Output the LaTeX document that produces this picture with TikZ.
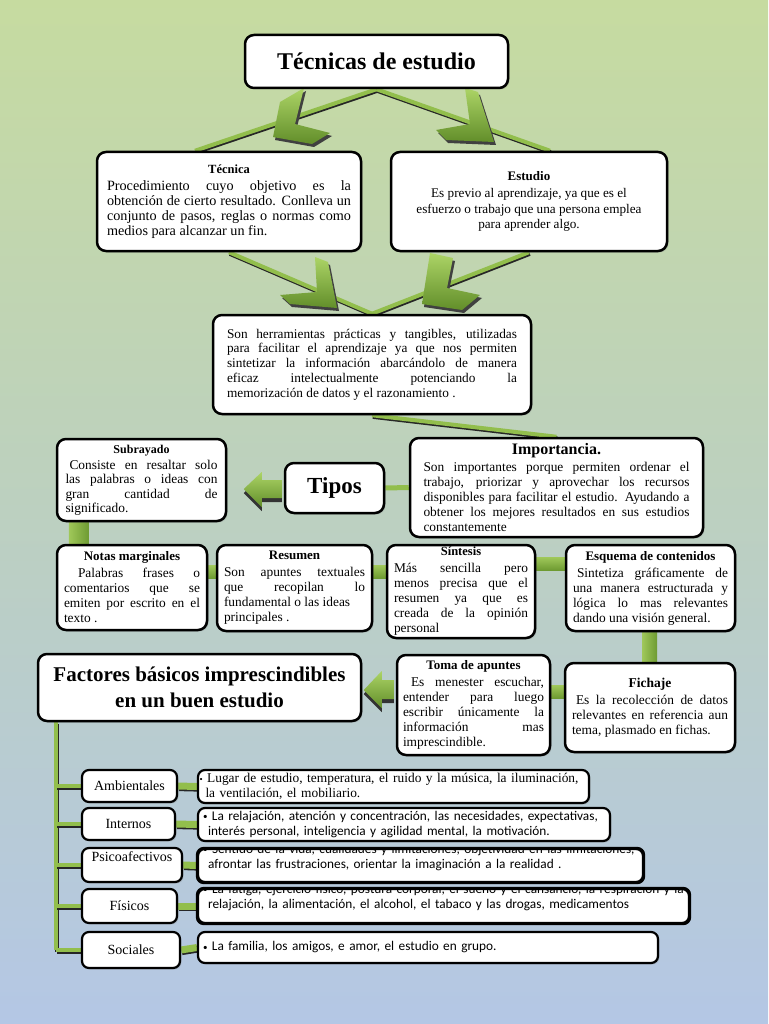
\documentclass[tikz,border=0pt]{standalone}
\usepackage{fontspec}
\setmainfont{Liberation Serif}
\newfontfamily\calib{Carlito}
\usetikzlibrary{shadows,calc}
\pgfdeclarelayer{bglayer}
\pgfdeclarelayer{linklayer}
\pgfsetlayers{bglayer,linklayer,main}
\definecolor{bgtop}{RGB}{198,219,160}
\definecolor{bgmid}{RGB}{188,208,192}
\definecolor{bgbot}{RGB}{180,199,229}
\definecolor{congreen}{RGB}{146,190,76}
\definecolor{chevlight}{RGB}{172,212,102}
\definecolor{chevdark}{RGB}{98,142,42}
\definecolor{barlight}{RGB}{160,200,90}
\definecolor{bardark}{RGB}{110,155,50}
\newcommand\hdr[2]{{\centering\fontsize{#1}{#1}\selectfont\bfseries #2\par}\vspace{2pt}}
% justified block: width, font size, line skip, content
\newcommand\jb[4]{\begin{minipage}{#1pt}\fontsize{#2}{#3}\selectfont\parindent=0pt\hyphenpenalty=10000\exhyphenpenalty=10000\relax #4\end{minipage}}
\newcommand\greenlink[2][4pt]{\draw[linkshadow, line width=#1] #2; \draw[linkgreen, line width=#1] #2;}
\newcommand\chevronshape[1]{\fill[black!75, shift={(2,3)}] #1 -- cycle; \shade[chev] #1 -- cycle;}
\newcommand\smallbullet{\raisebox{0.5pt}{\fontsize{9}{9}\selectfont •}}
\begin{document}
\begin{tikzpicture}[x=1pt,y=-1pt,
 box/.style={draw=black, line width=2.5pt, rounded corners=9pt, fill=white, inner sep=0pt,
   drop shadow={opacity=0.3, shadow xshift=1.5pt, shadow yshift=-1.5pt}},
 cbox/.style={box, line width=2.2pt, rounded corners=7pt, font=\fontsize{14}{15}\selectfont},
 dbox/.style={box, line width=2.2pt, rounded corners=7pt, align=left, font=\calib\fontsize{13.3}{15}\selectfont},
 linkgreen/.style={draw=congreen},
 linkshadow/.style={draw=black!85, transform canvas={shift={(0.8pt,-1.6pt)}}},
 chev/.style={top color=chevlight, bottom color=chevdark},
 vbar/.style={left color=barlight, right color=bardark},
 hbar/.style={top color=barlight, bottom color=bardark},
]
\useasboundingbox (0,0) rectangle (768,1024);
\begin{pgfonlayer}{bglayer}
\shade[top color=bgtop, bottom color=bgbot, middle color=bgmid] (0,0) rectangle (768,1024);
\end{pgfonlayer}

% ---------- nodes ----------
\node[box, minimum width=263, minimum height=53, font=\fontsize{24}{28}\selectfont\bfseries] (title) at (376.5,61.5) {Técnicas de estudio};

\node[box, minimum width=264, minimum height=99] (tecnica) at (229,201.5)
 {\jb{244}{14.2}{15}{\hdr{12.5}{Técnica}Procedimiento cuyo objetivo es la\linebreak obtención de cierto resultado. Conlleva un\linebreak conjunto de pasos, reglas o normas como\linebreak medios para alcanzar un fin.}};

\node[box, minimum width=276, minimum height=99] (estudio) at (529,201.5)
 {\jb{264}{13.2}{15.5}{\hdr{13}{Estudio}{\centering Es previo al aprendizaje, ya que es el\\esfuerzo o trabajo que una persona emplea\\para aprender algo.\par}}};

\node[box, minimum width=318, minimum height=99] (centro) at (372,364.5)
 {\jb{290}{13.3}{14.7}{Son herramientas prácticas y tangibles, utilizadas\linebreak para facilitar el aprendizaje ya que nos permiten\linebreak sintetizar la información abarcándolo de manera\linebreak eficaz intelectualmente potenciando la\linebreak memorización de datos y el razonamiento .}};

\node[box, minimum width=293, minimum height=99] (importancia) at (556.5,487.5)
 {\jb{266}{13.4}{15}{\hdr{16}{Importancia.}Son importantes porque permiten ordenar el\linebreak trabajo, priorizar y aprovechar los recursos\linebreak disponibles para facilitar el estudio. Ayudando a\linebreak obtener los mejores resultados en sus estudios\linebreak constantemente}};

\node[box, minimum width=99, minimum height=50, font=\fontsize{23}{28}\selectfont\bfseries] (tipos) at (334.5,488) {Tipos};

\node[box, minimum width=169, minimum height=82] (subrayado) at (141.5,480)
 {\jb{152}{13.4}{14.3}{\hdr{12}{Subrayado}\hspace*{4pt}Consiste en resaltar solo\linebreak las palabras o ideas con\linebreak gran cantidad de\linebreak significado.}};

\node[box, minimum width=150, minimum height=85] (notas) at (132,587.5)
 {\jb{136}{13.4}{15}{\hdr{13}{Notas marginales}\hspace*{14pt}Palabras frases o\linebreak comentarios que se\linebreak emiten por escrito en el\linebreak texto .}};

\node[box, minimum width=155, minimum height=86] (resumen) at (294.5,588)
 {\jb{141}{13.4}{15}{\hdr{13}{Resumen}Son apuntes textuales\linebreak que recopilan lo\linebreak fundamental o las ideas\newline principales .}};

\node[box, minimum width=148, minimum height=93] (sintesis) at (461,591.5)
 {\jb{134}{13.4}{15}{\hdr{12.5}{Síntesis}Más sencilla pero\linebreak menos precisa que el\linebreak resumen ya que es\linebreak creada de la opinión\linebreak personal}};

\node[box, minimum width=169, minimum height=86] (esquema) at (650.5,588)
 {\jb{155}{13.4}{15}{\hdr{13}{Esquema de contenidos}\hspace*{4pt}Sintetiza gráficamente de\linebreak una manera estructurada y\linebreak lógica lo mas relevantes\linebreak dando una visión general.}};

\node[box, minimum width=153, minimum height=100] (toma) at (473.5,705)
 {\jb{141}{13.4}{15}{\hdr{13}{Toma de apuntes}\hspace*{8pt}Es menester escuchar,\linebreak entender para luego\linebreak escribir únicamente la\linebreak información mas\linebreak imprescindible.}};

\node[box, minimum width=170, minimum height=89] (fichaje) at (650,707.5)
 {\jb{156}{13.4}{15}{\hdr{13.5}{Fichaje}\hspace*{4pt}Es la recolección de datos\linebreak relevantes en referencia aun\linebreak tema, plasmado en fichas.}};

\node[box, minimum width=323, minimum height=67, align=center, font=\fontsize{21}{26}\selectfont\bfseries] (factores) at (199.5,687.5)
 {Factores básicos imprescindibles\\en un buen estudio};

% categories
\node[cbox, minimum width=95, minimum height=32] (amb) at (129.5,786) {Ambientales};
\node[cbox, minimum width=93, minimum height=32] (int) at (128.5,824) {Internos};
\node[cbox, minimum width=100, minimum height=34] (psi) at (132,865) {\raisebox{8pt}[\height][\depth]{Psicoafectivos}};
\node[cbox, minimum width=95, minimum height=34] (fis) at (129.5,906) {Físicos};
\node[cbox, minimum width=98, minimum height=36] (soc) at (131,950) {Sociales};

% descriptions
\node[dbox, minimum width=391, minimum height=33, text width=388, font=\fontsize{13.4}{15}\selectfont] (ambd) at (393.5,786.5)
 {\smallbullet\ Lugar de estudio, temperatura, el ruido y la música, la iluminación,\\\hspace*{6pt}la ventilación, el mobiliario.};
\node[dbox, minimum width=412, minimum height=33, text width=402] (intd) at (404,824.5)
 {\smallbullet\ La relajación, atención y concentración, las necesidades, expectativas,\\\hspace*{5pt}interés personal, inteligencia y agilidad mental, la motivación.};
\node[dbox, minimum width=445, minimum height=33] (psid) at (420.5,865.5) {};
\begin{scope}
\clip[rounded corners=7pt] (psid.south west) rectangle (psid.north east);
\node[anchor=north west, inner sep=0pt, text width=436, align=left, font=\calib\fontsize{13.3}{15.5}\selectfont] (psit) at ($(psid.north west)+(6,-4)$)
 {\smallbullet\ Sentido de la vida, cualidades y limitaciones, objetividad en las limitaciones,\\\hspace*{5pt}afrontar las frustraciones, orientar la imaginación a la realidad .};
\end{scope}
\draw[line width=2.2pt, rounded corners=7pt] (psid.south west) rectangle (psid.north east);
\node[dbox, minimum width=491, minimum height=34] (fisd) at (443.5,906) {};
\begin{scope}
\clip[rounded corners=7pt] (fisd.south west) rectangle (fisd.north east);
\node[anchor=north west, inner sep=0pt, text width=484, align=left, font=\calib\fontsize{13.3}{15.5}\selectfont] (fist) at ($(fisd.north west)+(6,-4)$)
 {\smallbullet\ La fatiga, ejercicio físico, postura corporal, el sueño y el cansancio, la respiración y la\\\hspace*{5pt}relajación, la alimentación, el alcohol, el tabaco y las drogas, medicamentos};
\end{scope}
\draw[line width=2.2pt, rounded corners=7pt] (fisd.south west) rectangle (fisd.north east);
\node[dbox, minimum width=460, minimum height=31, text width=450] (socd) at (428,947.5)
 {\smallbullet\ La familia, los amigos, e amor, el estudio en grupo.};

% ---------- connectors ----------
\begin{pgfonlayer}{linklayer}
\greenlink{(title.south) -- ([xshift=-34pt]tecnica.north)}
\greenlink{(title.south) -- ([xshift=21pt]estudio.north)}
\greenlink{(tecnica.south) -- (centro.north)}
\greenlink{(estudio.south) -- (centro.north)}
\greenlink{(centro.south) -- (importancia.north)}
\draw[linkgreen, line width=5pt] (tipos.east) -- (importancia.west);

% chevrons
\chevronshape{(304,88) -- (280,102) -- (273,137) -- (312,144) -- (330,133) -- (295,124)}
\chevronshape{(465,88) -- (478,92) -- (494,142) -- (446,140) -- (436,130) -- (470,124)}
\chevronshape{(315,257) -- (328,262) -- (337,308) -- (290,304) -- (280,295) -- (317,292)}
\chevronshape{(430,253) -- (453,258) -- (447,288) -- (480,295) -- (462,310) -- (422,304)}

% block arrows
\begin{scope}[shift={(tipos.west)}]
\fill[black!80] (-40,5) -- (-22,-12) -- (-22,-4) -- (-2,-4) -- (-2,14) -- (-22,14) -- (-22,23) -- cycle;
\shade[chev] (-40,1) -- (-22,-16) -- (-22,-8) -- (-2,-8) -- (-2,10) -- (-22,10) -- (-22,19) -- cycle;
\end{scope}
\begin{scope}[shift={(toma.west)}]
\fill[black!80] (-32,-11) -- (-14,-30) -- (-14,-21) -- (-2,-21) -- (-2,-2) -- (-14,-2) -- (-14,7) -- cycle;
\shade[chev] (-32,-15) -- (-14,-34) -- (-14,-25) -- (-2,-25) -- (-2,-6) -- (-14,-6) -- (-14,3) -- cycle;
\end{scope}

% bars between boxes
\fill[vbar] ($(subrayado.south west)+(13,-3)$) rectangle ($(notas.north west)+(33,3)$);
\fill[hbar] ($(notas.east)+(-2,-22)$) rectangle ($(resumen.west)+(2,-10)$);
\fill[hbar] ($(resumen.east)+(-2,-23)$) rectangle ($(sintesis.west)+(2,-13.5)$);
\fill[hbar] ($(sintesis.east)+(-2,-34.5)$) rectangle ($(esquema.west)+(2,-18)$);
\fill[vbar] ($(esquema.south)+(-8.5,-3)$) rectangle ($(fichaje.north)+(7,3)$);
\fill[hbar] ($(toma.east)+(-2,-20)$) rectangle ($(fichaje.west)+(2,-9.5)$);

% factores tree
\coordinate (sp) at ($(factores.south west)+(19,0)$);
\greenlink{(sp) -- (sp |- soc.west)}
\greenlink{(sp |- amb.west) -- (amb.west)}
\greenlink{(sp |- int.west) -- (int.west)}
\greenlink{(sp |- psi.west) -- (psi.west)}
\greenlink{(sp |- fis.west) -- (fis.west)}
\greenlink{(sp |- soc.west) -- (soc.west)}
\greenlink[7pt]{(amb.east) -- (ambd.west)}
\greenlink[7pt]{(int.east) -- (intd.west)}
\greenlink[7pt]{(psi.east) -- (psid.west)}
\greenlink[7pt]{(fis.east) -- (fisd.west)}
\greenlink[7pt]{(soc.east) -- (socd.west)}
\end{pgfonlayer}
\end{tikzpicture}
\end{document}
